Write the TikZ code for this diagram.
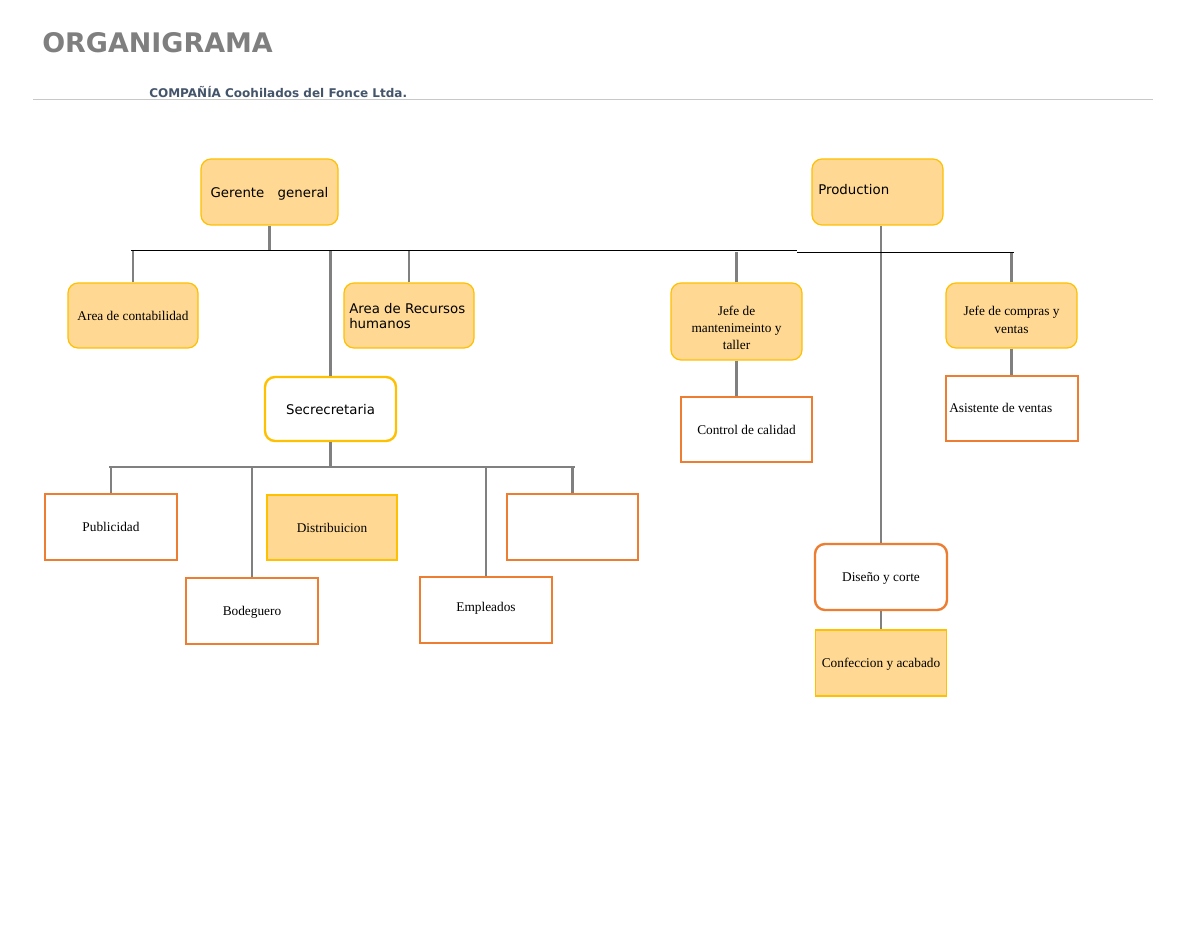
\documentclass[tikz,border=0pt]{standalone}
\usepackage{fontspec}
\setmainfont{Liberation Serif}
\newfontfamily\dv{DejaVu Sans}
\definecolor{peach}{HTML}{FFD994}
\definecolor{gold}{HTML}{FFC000}
\definecolor{orng}{HTML}{ED7D31}
\definecolor{lgray}{HTML}{808080}
\definecolor{titlegray}{HTML}{7F7F7F}
\definecolor{subblue}{HTML}{44546A}
\definecolor{rulegray}{HTML}{C8C8C8}
\begin{document}
\begin{tikzpicture}[x=0.75pt,y=-0.75pt,
  sz/.style 2 args={minimum width=#1*0.75pt, minimum height=#2*0.75pt},
  base/.style={inner sep=0pt, align=center, font=\fontsize{10}{12}\selectfont},
  peachround/.style={base, draw=gold, fill=peach, line width=0.9pt, rounded corners=7.5pt},
  peachsq/.style={base, draw=gold, fill=peach, line width=0.8pt},
  orangesq/.style={base, draw=orng, fill=white, line width=1.3pt},
  goldwhite/.style={base, draw=gold, fill=white, line width=1.8pt, rounded corners=7.5pt},
  orangeround/.style={base, draw=orng, fill=white, line width=1.8pt, rounded corners=7.5pt},
  sanstext/.style={font=\dv\fontsize{10}{11.5}\selectfont},
  conn/.style={draw=lgray, line width=2.2pt},
  connthin/.style={draw=lgray, line width=1.6pt},
  busline/.style={draw=black, line width=0.6pt}
]
\useasboundingbox (0,0) rectangle (1200,927);
\fill[white] (0,0) rectangle (1200,927);

% title
\node[anchor=base west, inner sep=0pt, text=titlegray, font=\dv\bfseries\fontsize{20.2}{24}\selectfont] (title) at (42,53) {ORGANIGRAMA};
\node[anchor=base west, inner sep=0pt, text=subblue, font=\dv\bfseries\fontsize{9}{11}\selectfont] (sub) at (149,97.5) {COMPAÑÍA Coohilados del Fonce Ltda.};
\draw[rulegray, line width=0.8pt] (33,99.5) -- (1153,99.5);

% top level
\node[peachround, sanstext, sz={137}{66}, text depth=0pt] (gg) at (269.5,192) {Gerente\quad general};
\node[peachround, sz={131}{66}] (prod) at (877.5,192) {};
\node[sanstext, anchor=west, inner sep=0pt] (prodt) at (818,190) {Production};

% second level
\node[peachround, sz={130}{65}, text depth=0pt] (ac) at (133,315.5) {Area de contabilidad};
\node[peachround, sz={130}{65}] (rh) at (409,315.5) {};
\node[sanstext, anchor=west, inner sep=0pt, align=left] (rht) at (349,316) {Area de Recursos\\humanos};
\node[peachround, sz={131}{77}] (jm) at (736.5,321.5) {};
\node[base, anchor=center] (jmt) at (736.5,328) {Jefe de\\[1pt]mantenimeinto y\\[1pt]taller};
\node[peachround, sz={131}{65}] (jc) at (1011.5,315.5) {};
\node[base, anchor=center] (jct) at (1011.5,320) {Jefe de compras y\\[1pt]ventas};

% third level
\node[goldwhite, sanstext, sz={131}{64}, text depth=0pt] (sec) at (330.5,409) {Secrecretaria};
\node[orangesq, sz={131}{65}, text depth=0pt] (cc) at (746.5,429.5) {Control de calidad};
\node[orangesq, sz={132}{65}] (av) at (1012,408.5) {};
\node[base, anchor=west] (avt) at (949,408) {Asistente de ventas};

% fourth level
\node[orangesq, sz={132}{66}, text depth=0pt] (pub) at (111,527) {Publicidad};
\node[peachsq, sz={130}{65}, text depth=0pt] (dist) at (332,527.5) {Distribuicion};
\node[orangesq, sz={131}{66}] (blank) at (572.5,527) {};
\node[orangesq, sz={132}{66}, text depth=0pt] (bod) at (252,611) {Bodeguero};
\node[orangesq, sz={132}{66}] (emp) at (486,610) {};
\node[base] (empt) at (486,608) {Empleados};

% production branch
\node[orangeround, sz={132}{66}, text depth=0pt] (dc) at (881,577) {Diseño y corte};
\node[peachsq, sz={131}{66}, text depth=0pt] (conf) at (881,663) {Confeccion y acabado};

% bus lines
\coordinate (busL) at (131,250);
\coordinate (busM) at (797,250);
\coordinate (busM2) at (797,252);
\coordinate (busR) at (1014,252);
\coordinate (bus2L) at (109,467);
\coordinate (bus2R) at (575,467);

\draw[conn] (gg.south) -- (gg.south |- busL);
\draw[conn] (ac.north) -- (ac.north |- busL);
\draw[connthin] (sec.north) -- (sec.north |- busL);
\draw[conn] (rh.north) -- (rh.north |- busL);
\draw[connthin] (jm.north) -- (jm.north |- busM2);
\draw[connthin] (jm.south) -- (jm.south |- cc.north);
\draw[connthin] (dc.north) -- (dc.north |- prod.south);
\draw[conn] (jc.north) -- (jc.north |- busR);
\draw[conn] (jc.south) -- (jc.south |- av.north);

\draw[busline] (busL) -- (busM);
\draw[busline] (busM2) -- (busR);

\draw[conn] (sec.south) -- (sec.south |- bus2L);
\draw[conn] (bus2L) -- (bus2R);
\draw[conn] (pub.north) -- (pub.north |- bus2L);
\draw[conn] (bod.north) -- (bod.north |- bus2L);
\draw[connthin] (emp.north) -- (emp.north |- bus2L);
\draw[conn] (blank.north) -- (blank.north |- bus2R);
\draw[connthin] (dc.south) -- (conf.north);
\end{tikzpicture}
\end{document}
